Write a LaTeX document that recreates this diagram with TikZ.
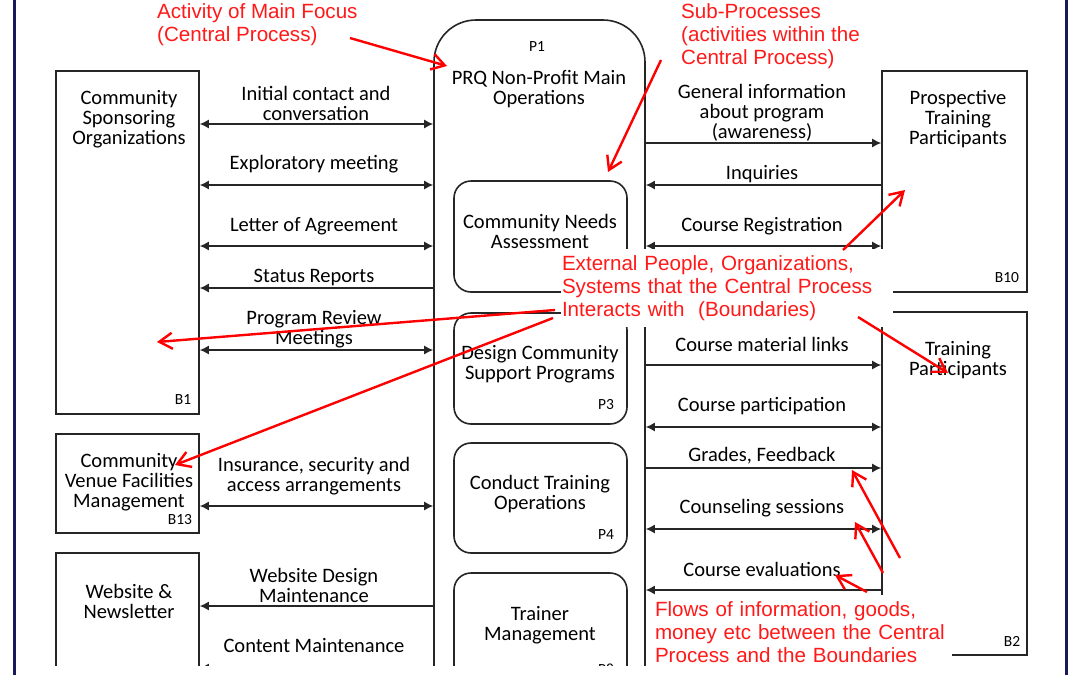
\documentclass[tikz,border=0pt]{standalone}
\usepackage{fontspec}
\setmainfont{Carlito}
\newfontfamily\notefont{Liberation Sans}
\usetikzlibrary{arrows.meta}

\definecolor{framenavy}{RGB}{25,25,90}
\definecolor{notered}{RGB}{255,25,25}

\begin{document}
\begin{tikzpicture}[x=1pt, y=-1pt,
		bnd/.style = {draw=black!85, line width=1.6pt, inner sep=0pt},
		sub/.style = {draw=black!85, line width=1.6pt, rounded corners=17pt, inner sep=0pt, minimum width=173pt},
		txt/.style = {align=center, font=\fontsize{20.5}{20}\selectfont, inner sep=0pt},
		tag/.style = {font=\fontsize{15.5}{18}\selectfont, inner sep=0pt},
		fl/.style = {draw=black!85, line width=1.3pt, -{Latex[length=9pt, width=9pt]}},
		fltwo/.style = {fl, {Latex[length=9pt, width=9pt]}-{Latex[length=9pt, width=9pt]}},
		note/.style = {text=notered, font=\notefont\fontsize{20.6}{22.8}\selectfont, align=left, fill=white, inner ysep=2pt, inner xsep=4pt},
		hint/.style = {draw=red, line width=2.4pt, -{Straight Barb[length=13pt, width=16pt]}}]
	
	\useasboundingbox (0,0) rectangle (1080,675);
	
	\begin{scope}
		\clip (0,0) rectangle (1080,665);
		
		% central process and its sub-processes
		\node[bnd, rounded corners=42pt, minimum width=211pt, minimum height=700pt] (P1) at (539.5,370) {};
		\node[sub, minimum height=111pt] (P2) at (540.5,236.5) {};
		\node[sub, minimum height=111pt] (P3) at (540.5,368.5) {};
		\node[sub, minimum height=110pt] (P4) at (540.5,498) {};
		\node[sub, minimum height=110pt] (P8) at (540.5,628) {};
		
		\node[tag] (tP1) at (537,47) {P1};
		\node[txt] (xP1) at (539,89) {PRQ Non-Profit Main\\Operations};
		\node[txt] (xP2) at (540,231) {Community Needs\\Assessment};
		\node[txt] (xP3) at (540,364) {Design Community\\Support Programs};
		\node[tag] (tP3) at (606,405) {P3};
		\node[txt] (xP4) at (540,494) {Conduct Training\\Operations};
		\node[tag] (tP4) at (606,535) {P4};
		\node[txt] (xP8) at (540,625) {Trainer\\Management};
		\node[tag] (tP8) at (606,669) {P8};
		
		% boundaries
		\node[bnd, minimum width=143pt, minimum height=343pt] (B1) at (127.5,242.5) {};
		\node[bnd, minimum width=143pt, minimum height=99pt] (B13) at (127.5,483.5) {};
		\node[bnd, minimum width=143pt, minimum height=200pt] (Bweb) at (127.5,653) {};
		\node[bnd, minimum width=145pt, minimum height=221pt] (B10) at (954.5,181.5) {};
		\node[bnd, minimum width=145pt, minimum height=343pt] (B2) at (954.5,483.5) {};
		
		\node[txt] (xB1) at (129,119) {Community\\Sponsoring\\Organizations};
		\node[tag] (tB1) at (183,400) {B1};
		\node[txt] (xB13) at (129,482) {Community\\Venue Facilities\\Management};
		\node[tag] (tB13) at (180,520) {B13};
		\node[txt] (xBweb) at (129,601) {Website \&\\Newsletter};
		\node[txt] (xB10) at (958,119) {Prospective\\Training\\Participants};
		\node[tag] (tB10) at (1007,278) {B10};
		\node[txt] (xB2) at (958,360) {Training\\Participants};
		\node[tag] (tB2) at (1012,641) {B2};
		
		% flows on the left
		\node[txt] (lInit) at (316,103) {Initial contact and\\conversation};
		\node[txt] (lExpl) at (314,164) {Exploratory meeting};
		\node[txt] (lLett) at (314,226) {Letter of Agreement};
		\node[txt] (lStat) at (314,277) {Status Reports};
		\node[txt] (lProg) at (314,329) {Program Review\\Meetings};
		\node[txt] (lIns) at (314,476) {Insurance, security and\\access arrangements};
		\node[txt] (lWeb) at (314,585) {Website Design\\Maintenance};
		\node[txt] (lCont) at (314,646) {Content Maintenance};
		
		\draw[fltwo] (B1.east |- 0,124) -- (P1.west |- 0,124);
		\draw[fltwo] (B1.east |- 0,185) -- (P1.west |- 0,185);
		\draw[fltwo] (B1.east |- 0,246) -- (P1.west |- 0,246);
		\draw[fl] (P1.west |- 0,288) -- (B1.east |- 0,288);
		\draw[fltwo] (B1.east |- 0,350) -- (P1.west |- 0,350);
		\draw[fltwo] (B13.east |- 0,506) -- (P1.west |- 0,506);
		\draw[fl] (P1.west |- 0,606) -- (Bweb.east |- 0,606);
		\draw[fl] (P1.west |- 0,668) -- (Bweb.east |- 0,668);
		
		% flows on the right
		\node[txt] (rGen) at (762,113) {General information\\about program\\(awareness)};
		\node[txt] (rInq) at (762,174) {Inquiries};
		\node[txt] (rReg) at (762,226) {Course Registration};
		\node[txt] (rMat) at (762,344) {Course material links};
		\node[txt] (rPart) at (762,406) {Course participation};
		\node[txt] (rGrad) at (762,456) {Grades, Feedback};
		\node[txt] (rCoun) at (762,508) {Counseling sessions};
		\node[txt] (rEval) at (762,569) {Course evaluations};
		
		\draw[fl] (P1.east |- 0,143) -- (B10.west |- 0,143);
		\draw[fl] (B10.west |- 0,185) -- (P1.east |- 0,185);
		\draw[fltwo] (P1.east |- 0,246) -- (B10.west |- 0,246);
		\draw[fl] (P1.east |- 0,365) -- (B2.west |- 0,365);
		\draw[fltwo] (P1.east |- 0,427) -- (B2.west |- 0,427);
		\draw[fl] (P1.east |- 0,468) -- (B2.west |- 0,468);
		\draw[fltwo] (P1.east |- 0,529) -- (B2.west |- 0,529);
		\draw[fl] (B2.west |- 0,590) -- (P1.east |- 0,590);
		
		% red notes
		\node[note, anchor=west] (nMain) at (153,25) {Activity of Main Focus\\(Central Process)};
		\node[note, anchor=west] (nSub) at (677,36) {Sub-Processes\\(activities within the\\Central Process)};
		\node[note, text width=330pt, inner xsep=1pt, minimum height=78pt] (nExt) at (727,288) {External People, Organizations,\\Systems that the Central Process\\Interacts with~ (Boundaries)};
		\node[note, text width=296pt, inner xsep=1pt, minimum height=74pt] (nFlow) at (803,632) {Flows of information, goods,\\money etc between the Central\\Process and the Boundaries};
		
		\coordinate (aMain) at (350,38);   \coordinate (hMain) at (447,66);
		\coordinate (aSub) at (661,60);    \coordinate (hSub) at (608,172);
		\coordinate (aB1) at (555,310);    \coordinate (hB1) at (157,342);
		\coordinate (aB13) at (553,318);   \coordinate (hB13) at (175,465);
		\coordinate (aB10) at (843,250);   \coordinate (hB10) at (905,190);
		\coordinate (aB2) at (858,317);    \coordinate (hB2) at (948,373);
		\coordinate (aGrad) at (900,558);  \coordinate (hGrad) at (852,470);
		\coordinate (aCoun) at (883,573);  \coordinate (hCoun) at (855,522);
		\coordinate (aEval) at (867,592);  \coordinate (hEval) at (835,575);
		
		\draw[hint] (aMain) -- (hMain);
		\draw[hint] (aSub) -- (hSub);
		\draw[hint] (aB1) -- (hB1);
		\draw[hint] (aB13) -- (hB13);
		\draw[hint] (aB10) -- (hB10);
		\draw[hint] (aB2) -- (hB2);
		\draw[hint] (aGrad) -- (hGrad);
		\draw[hint] (aCoun) -- (hCoun);
		\draw[hint] (aEval) -- (hEval);
	\end{scope}
	
	% page frame
	\draw[framenavy, line width=3pt] (14,0) -- (14,675);
	\draw[framenavy, line width=3pt] (1066,0) -- (1066,675);
	
\end{tikzpicture}
\end{document}
